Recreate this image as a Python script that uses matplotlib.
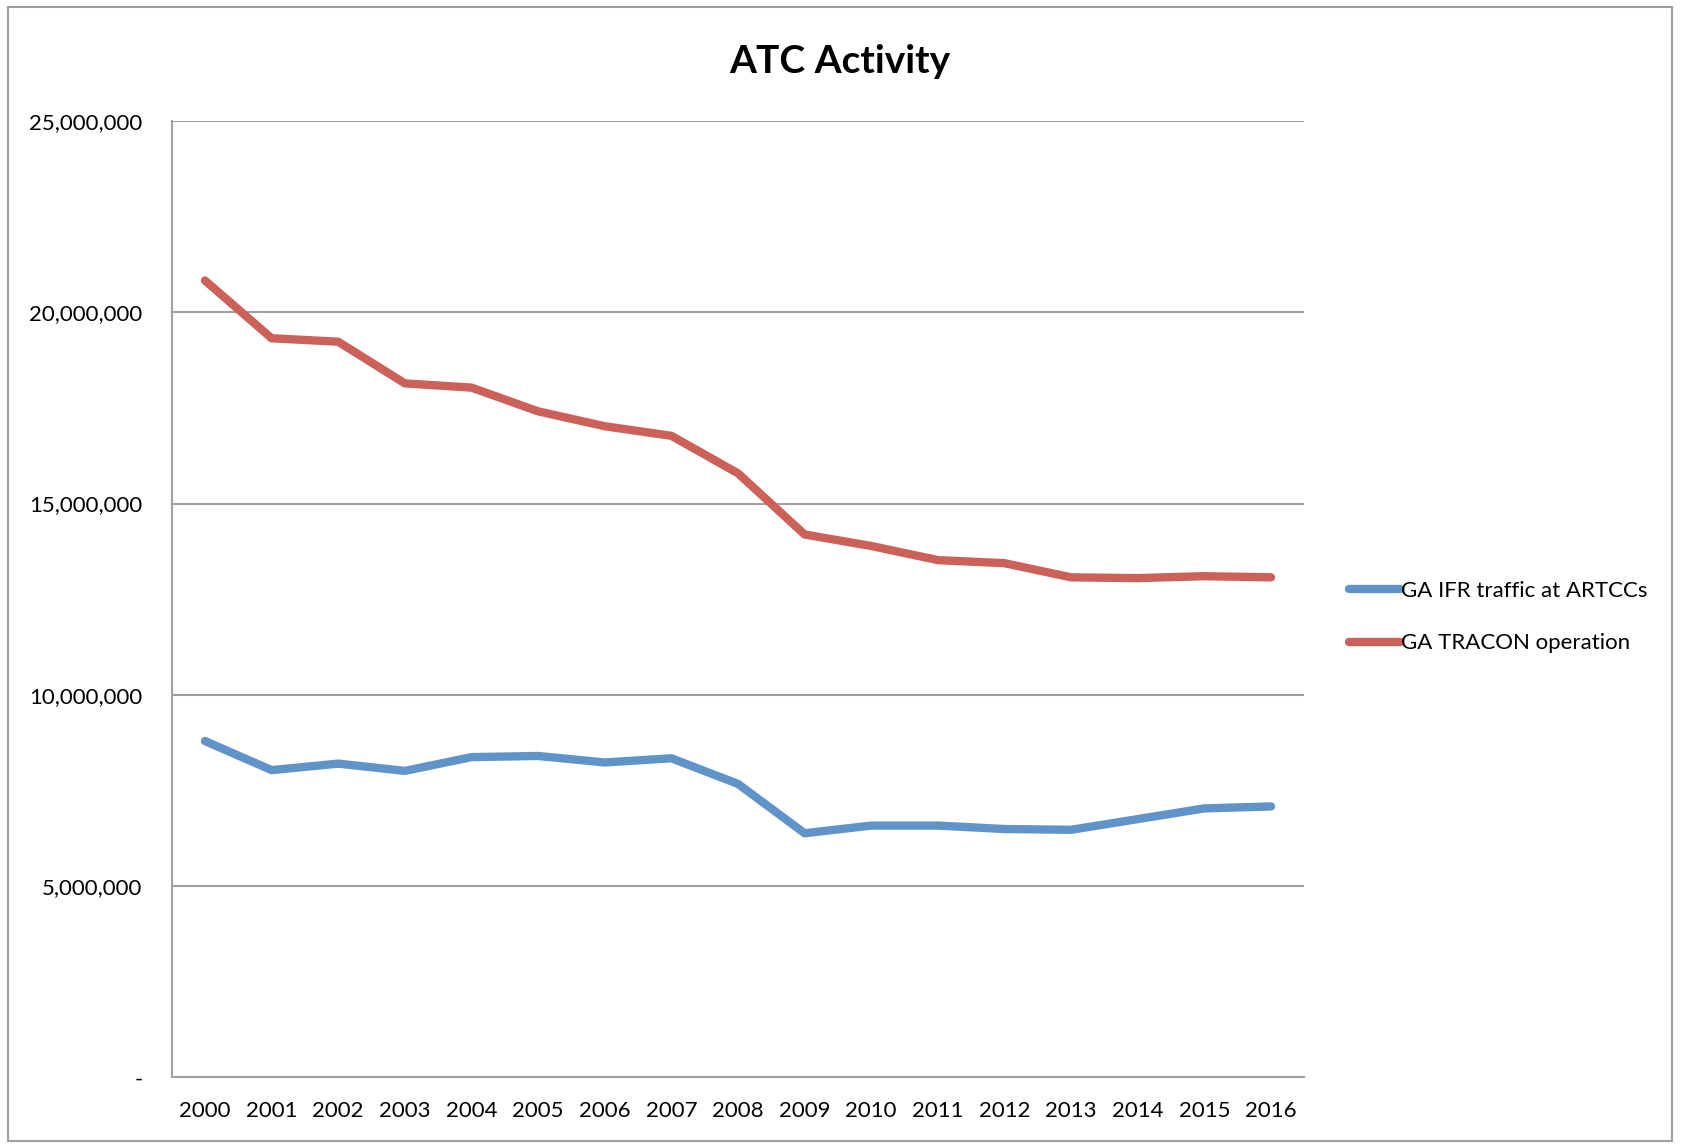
import matplotlib.pyplot as plt
from matplotlib.patches import Rectangle
from matplotlib.ticker import FuncFormatter

years = [str(y) for y in range(2000, 2017)]
ifr_artcc = [8.79, 8.03, 8.20, 8.01, 8.37, 8.40, 8.23, 8.34, 7.67, 6.38,
             6.58, 6.58, 6.49, 6.47, 6.75, 7.03, 7.08]
tracon_ops = [20.83, 19.32, 19.23, 18.14, 18.03, 17.41, 17.02, 16.77, 15.79, 14.19,
              13.89, 13.52, 13.44, 13.07, 13.05, 13.10, 13.07]
series_names = ["GA IFR traffic at ARTCCs", "GA TRACON operation"]
colors = ["#6094C8", "#CB6159"]

plt.rcParams['font.family'] = ['Lato', 'DejaVu Sans']

fig = plt.figure(figsize=(16.83, 11.48), dpi=100)
ax = fig.add_axes([0.102, 0.0616, 0.673, 0.833])

x = range(len(years))
for vals, name, c in zip([ifr_artcc, tracon_ops], series_names, colors):
    ax.plot(x, [v * 1e6 for v in vals], color=c, lw=6, label=name,
            solid_capstyle='round', solid_joinstyle='round')

ax.set_xlim(-0.5, len(years) - 0.5)
ax.set_ylim(0, 25e6)
ax.set_yticks([0, 5e6, 10e6, 15e6, 20e6, 25e6])
ax.yaxis.set_major_formatter(FuncFormatter(lambda v, p: '-' if v == 0 else f'{int(v):,}'))
ax.set_xticks(list(x))
ax.set_xticklabels(years)
ax.tick_params(axis='both', length=0, labelsize=16)
ax.tick_params(axis='x', pad=17)
ax.tick_params(axis='y', pad=21)
ax.yaxis.grid(True, color='#A0A0A0', lw=1.5)
ax.set_axisbelow(True)
for s in ['top', 'right']:
    ax.spines[s].set_visible(False)
for s in ['left', 'bottom']:
    ax.spines[s].set_color('#A0A0A0')
    ax.spines[s].set_linewidth(1.5)

fig.text(0.4987, 0.946, "ATC Activity", ha='center', va='center',
         fontsize=28, fontweight='bold')

ax.legend(loc='center left', bbox_to_anchor=(1.022, 0.481), frameon=False,
          fontsize=16, handlelength=2.3, handletextpad=0.05, labelspacing=1.45)

fig.patches.append(Rectangle((0.0045, 0.0065), 0.9891, 0.987, transform=fig.transFigure,
                             fill=False, edgecolor='#A0A0A0', lw=1.5))

fig.savefig('out.png', dpi=100, facecolor='white')
